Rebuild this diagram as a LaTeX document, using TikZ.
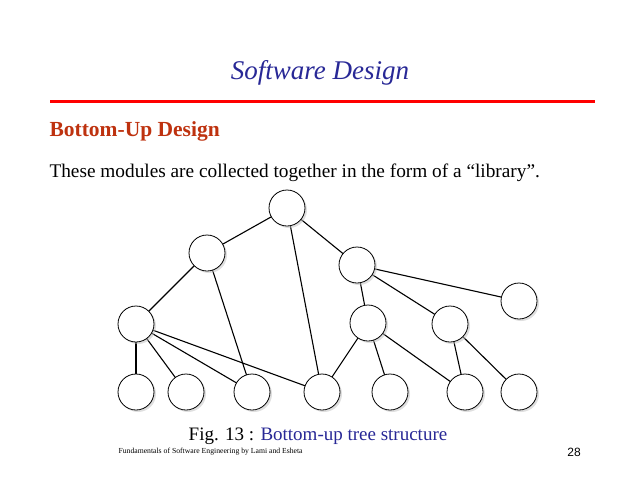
\documentclass[tikz,border=0pt]{standalone}
\usepackage{fontspec}
\usetikzlibrary{shadows}
\setmainfont{Liberation Serif}
\newfontfamily\sansf{Liberation Sans}
\definecolor{titleblue}{RGB}{40,40,150}
\definecolor{headred}{RGB}{190,50,15}
\begin{document}
\begin{tikzpicture}[x=1pt,y=-1pt,
  mod/.style={circle,draw,thick,fill=white,minimum size=36pt,inner sep=0pt,
    drop shadow={shadow xshift=2pt,shadow yshift=-2pt,fill=black!25}},
  edge/.style={line width=1.1pt}]
\useasboundingbox (0,0) rectangle (638,493);
\node (title) at (320,73) {\fontsize{27}{30}\selectfont\itshape\color{titleblue}Software Design};
\coordinate (rl) at (50,101); \coordinate (rr) at (595,101);
\draw[red,line width=3pt] (rl) -- (rr);
\node[anchor=west] (head) at (46,131) {\fontsize{21.5}{24}\selectfont\bfseries\color{headred}Bottom-Up Design};
\node[anchor=west] (body) at (46,173) {\fontsize{19.3}{22}\selectfont These modules are collected together in the form of a ``library''.};
\foreach \n/\x/\y in {r/287/208,a/207/253,b/357/265,c/519/301,d/136/324,e/368/323,f/450/324,
  b1/136/392,b2/186/392,b3/252/392,b4/322/392,b5/390/392,b6/465/392,b7/519/392}
  \coordinate (p\n) at (\x,\y);
\foreach \u/\v in {r/a,r/b,r/b4,a/d,a/b3,b/e,b/f,b/c,d/b1,d/b2,d/b3,d/b4,e/b4,e/b5,e/b6,f/b6,f/b7}
  \draw[edge] (p\u) -- (p\v);
\foreach \n in {r,a,b,c,d,e,f,b1,b2,b3,b4,b5,b6,b7}
  \node[mod] (\n) at (p\n) {};
\node (cap) at (318,436) {\fontsize{19}{22}\selectfont Fig. 13 : \color{titleblue}Bottom-up tree structure};
\node[anchor=west] (foot) at (115,452) {\fontsize{7.7}{9}\selectfont Fundamentals of Software Engineering by Lami and Esheta};
\node (num) at (574,452) {\fontsize{12}{14}\selectfont\sansf 28};
\end{tikzpicture}
\end{document}
